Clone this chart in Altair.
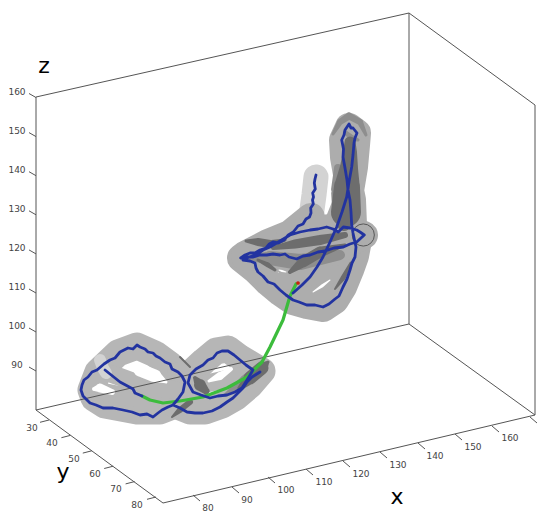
import altair as alt
import pandas as pd

# ---- picture-plane read-offs (projected 3-D, horizontal u / vertical v) ----
box_segments = [
    [(36, 97), (409, 13)], [(409, 13), (535, 105)], [(535, 105), (535, 415)],
    [(409, 13), (409, 324)], [(36, 410), (409, 324)], [(409, 324), (535, 415)],
    [(36, 97), (36, 410)], [(36, 410), (163, 503)], [(163, 503), (535, 415)],
]
x_tick_labels = [80, 90, 100, 110, 120, 130, 140, 150, 160]
x_label_u = [208, 247, 286, 324, 361, 398, 435, 473, 510]
x_label_v = [508, 500, 490, 482, 474, 465, 456, 447, 438]
x_tick_u = [193, 232, 268, 306, 343, 380, 418, 455, 492, 530]
x_tick_v = [495, 487, 477, 469, 461, 452, 443, 434, 426, 417]
y_tick_labels = [30, 40, 50, 60, 70, 80]
y_label_u = [32, 52, 74, 95, 116, 137]
y_label_v = [428, 443, 459, 474, 489, 505]
y_tick_u = [49, 70.4, 91.8, 113.2, 134.6, 156]
y_tick_v = [420, 435.4, 450.8, 466.2, 481.6, 497]
z_tick_labels = [160, 150, 140, 130, 120, 110, 100, 90]
z_tick_v = [97.5, 136.6, 175.7, 214.8, 253.9, 293, 332, 371]

tube_lower_main = [(91,390),(98,372),(118,353),(137,346),(155,354),(170,365),(184,380),(186,393),(178,404),(160,411),(137,411),(105,405),(94,398),(91,390)]
tube_lower_right = [(175,405),(190,411),(205,411),(222,405),(236,397),(250,385),(262,371),(252,365),(240,358),(228,349),(216,351),(204,361),(190,374),(186,385),(193,393)]
tube_lower_fill = [[(104,392),(135,398),(172,398)], [(112,374),(150,388),(175,390)], [(176,372),(195,370)], [(200,385),(240,376)]]
tube_lower_tail = [(100,360),(103,368),(106,373)]
tube_upper_left = [(316,177),(314,195),(311,217)]
tube_upper_a = [(311,217),(290,234),(268,243),(245,255),(241,258),(256,270),(268,282),(280,292),(293,301),(307,305),(323,308),(335,300),(343,287),(350,270),(355,256),(358,240),(353,225),(352,200),(348,180),(344,157),(343,140),(349,127),(357,133),(356,145),(354,167),(349,197),(337,227),(323,257),(310,277),(293,293)]
tube_upper_b = [(245,257),(280,255),(310,255),(343,247),(364,235),(343,227),(310,230),(290,235)]
tube_upper_fill = [[(262,262),(338,262)], [(285,280),(335,275)], [(300,298),(328,292)], [(300,245),(340,237)]]

dark_trails = [
    # u, v, width
    [(350,142,11),(350,152,14),(349,167,18),(347,187,26),(346,212,30),(344,224,14)],
    [(246,241,3),(258,242,8),(270,244,8),(285,240,3)],
    [(273,248,4),(295,244,9),(320,240,10),(345,235,6)],
    [(290,272,4),(303,262,11),(320,252,11),(345,245,3)],
    [(258,260,3),(268,265,5),(275,270,3)],
    [(335,289,2),(343,278,5),(351,263,3)],
    [(195,378,4),(200,385,12),(206,391,7)],
    [(190,402,6),(180,410,6),(172,417,2)],
    [(240,388,5),(250,378,13),(262,368,13),(268,362,3)],
    [(180,357,2),(190,367,2)],
]
mid_trails = [
    [(244,258,3),(270,258,14),(300,262,16),(340,255,10)],
    [(338,168,8),(336,190,10),(335,208,6)],
    [(333,134,3),(340,122,6),(349,116,7),(360,122,6),(366,135,3)],
    [(345,132,4),(352,138,6),(358,140,3)],
    [(225,395,3),(245,380,10),(262,362,4)],
]
white_trails = [
    [(131,366,4),(140,370,13),(155,376,13),(166,382,3)],
    [(94,389,4),(100,388,9),(112,392,6)],
    [(209,381,3),(220,376,8),(231,369,4)],
    [(313,292,1),(322,286,3),(330,280,1)],
    [(279,270,1),(282,271,2),(286,272,1)],
    [(329,186,1),(330,189,2),(331,192,1)],
]
upper_circle = [(363.3, 235)]

blue_upper = [(316,175),(315,179),(314.3,183),(315.3,189),(312.7,193),(313.5,197),(312.5,200),(313.3,204),(310.7,208),(311,213),(309.5,217),(306,219),(303,224),(298,226),(293.3,232),(288.3,235),(284,240),(278.3,243),(273,242),(269.3,244),(266,248),(260,250),(255,253),(250,253),(245,255),(240.7,258),(246,257),(253.3,257),(260,255),(266.7,255),(273,254),(280,255),(285,254),(289,257),(296.7,259),(303,256),(310,255),(318,252),(325,251),(334,248),(343.3,247),(350,244),(356.7,242),(361,238),(364.3,235),(360,232),(356.7,230),(350,228),(343.3,227),(338.3,232),(333,229),(326.7,227),(318,229),(310,230),(300,232),(290,235),(280,241),(270,247),(263,250),(256,255),(249,257),(243,260),(250,261),(255,263),(256,268),(258,272),(263,276),(268,282),(274,284),(280,290),(286,295),(293,300),(299,302),(306.7,305),(315,305),(323,307),(329,304),(335,299),(339,296),(343,287),(347,279),(350,270),(352,263),(355,257),(356,247),(353,233),(351.7,225),(351,212),(350,200),(348,190),(347,180),(345,168),(343,157),(343.5,149),(341.7,140),(344,135),(345,130),(349,124),(351,128),(353,128),(357,133),(355,138),(354,143),(353,155),(351.7,167),(349,182),(346.7,197),(342,212),(336.7,227),(330,242),(323,257),(317,267),(310,277),(302,285),(293,293)]
blue_lower_a = [(105,370),(120,382),(133,389),(135,393),(142,396)]
blue_lower_b = [(173,405),(178,399),(183,392),(184,387),(185,382),(182,376),(178,372),(172,369),(170,364),(165,362),(160,358),(156,356),(153,353),(148,352),(145,349),(140,347),(137,345),(133,349),(128,348),(120,352),(115,358),(110,360),(104,364),(97,370),(92,372),(88,377),(84,380),(82,385),(81,390),(83,396),(86,399),(90,403),(96,405),(103,408),(113,408),(123,410),(132,412),(140,415),(147,414),(153,417),(158,413),(162,410),(168,407),(173,405),(180,408),(187,412),(195,413),(203,413),(212,411),(220,407),(227,402),(233,398),(238,393),(243,388),(247,382),(252,377),(260,372)]
blue_lower_c = [(253,370),(246,365),(240,360),(234,355),(228,351),(222,351),(217,353),(213,358),(208,360),(203,365),(196,369),(190,375),(188,383),(193,392),(201,395),(210,398),(218,396),(227,395),(235,392),(242,388),(247,380),(253,370)]
green_path = [(296,284),(290,296),(283,320),(270,347),(262,362),(247,377),(227,388),(203,397),(180,401),(163,403),(150,400),(142,396)]
red_spot = [(298,283)]

U = alt.Scale(domain=[8, 542])
V = alt.Scale(domain=[517, 8])
COMMON = dict(
    x=alt.X("u:Q", scale=U, axis=None),
    y=alt.Y("v:Q", scale=V, axis=None),
)

def frame(points):
    return pd.DataFrame({"u": [p[0] for p in points], "v": [p[1] for p in points], "i": range(len(points))})

def line(points, color, width, opacity=1.0, cap="round"):
    return alt.Chart(frame(points)).mark_line(
        color=color, strokeWidth=width, opacity=opacity, strokeCap=cap, strokeJoin="round", interpolate="linear"
    ).encode(order="i:Q", **COMMON)

def trail(points, color):
    df = pd.DataFrame({"u": [p[0] for p in points], "v": [p[1] for p in points], "w": [p[2] for p in points], "i": range(len(points))})
    return alt.Chart(df).mark_trail(color=color).encode(order="i:Q", size=alt.Size("w:Q", scale=None, legend=None), **COMMON)

layers = []
# tubes
layers.append(line(tube_upper_left, "#d3d3d3", 25))
for t in [tube_lower_main, tube_lower_right]:
    layers.append(line(t, "#b6b6b6", 27))
for t in tube_lower_fill:
    layers.append(line(t, "#b6b6b6", 18))
layers.append(line(tube_lower_tail, "#d3d3d3", 12))
for t in [tube_upper_a, tube_upper_b]:
    layers.append(line(t, "#adadad", 28))
for t in tube_upper_fill:
    layers.append(line(t, "#adadad", 20))
# darker structure
for t in mid_trails:
    layers.append(trail(t, "#8e8e8e"))
for t in dark_trails:
    layers.append(trail(t, "#6d6d6d"))
for t in white_trails:
    layers.append(trail(t, "#ffffff"))
layers.append(alt.Chart(frame(upper_circle)).mark_point(shape="circle", size=490, color="#444444", strokeWidth=1, opacity=0.8).encode(**COMMON))
# box
for seg in box_segments:
    layers.append(line(seg, "#555555", 1, cap="butt"))
# ticks
def tick(u, v, du, dv):
    layers.append(line([(u, v), (u + du, v + dv)], "#555555", 1, cap="butt"))
for u, v in zip(x_tick_u, x_tick_v):
    tick(u, v, 7, 6)
for u, v in zip(y_tick_u, y_tick_v):
    tick(u, v, -9, 2.3)
for v in z_tick_v:
    tick(36, v, -7, -4)
# paths
layers.append(line(green_path, "#3cbc3c", 3.2))
layers.append(alt.Chart(frame(red_spot)).mark_point(shape="circle", filled=True, size=14, color="#c8200c", opacity=1).encode(**COMMON))
for b in [blue_upper, blue_lower_a, blue_lower_b, blue_lower_c]:
    layers.append(line(b, "#2233a0", 2.8))

def texts(us, vs, labels, size, color, **kw):
    df = pd.DataFrame({"u": us, "v": vs, "t": [str(x) for x in labels]})
    return alt.Chart(df).mark_text(font="DejaVu Sans", fontSize=size, color=color, align="center", baseline="middle", **kw).encode(text="t:N", **COMMON)

layers.append(texts(x_label_u, x_label_v, x_tick_labels, 9, "#444444"))
layers.append(texts(y_label_u, y_label_v, y_tick_labels, 9, "#444444"))
layers.append(texts([17] * len(z_tick_labels), [v - 6 for v in z_tick_v], z_tick_labels, 9, "#444444"))
layers.append(texts([397], [497], ["x"], 22, "#000000"))
layers.append(texts([63], [472], ["y"], 22, "#000000"))
layers.append(texts([44], [66], ["z"], 22, "#000000"))

chart = alt.layer(*layers).properties(width=534, height=509, padding=0).configure_view(stroke=None)
chart.save("out.html", embed_options={"renderer": "svg", "actions": False})
